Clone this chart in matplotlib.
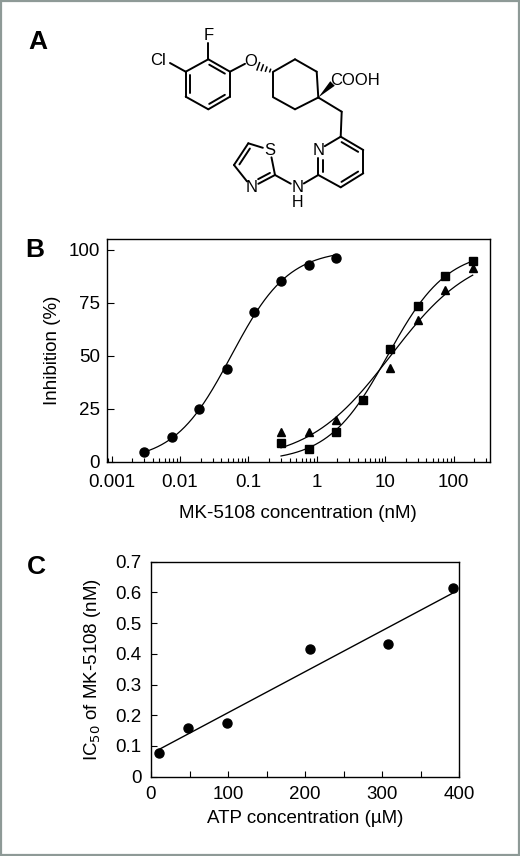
import numpy as np
import matplotlib.pyplot as plt
from matplotlib.patches import Polygon, Rectangle

plt.rcParams['font.family'] = ['Liberation Sans', 'DejaVu Sans']

# panel B data: MK-5108 concentration (nM) vs inhibition (%)
conc_aurA = [0.003, 0.0077, 0.019, 0.048, 0.12, 0.30, 0.76, 1.9]
inh_aurA = [4.7, 11.8, 24.7, 43.8, 70.4, 85.4, 92.9, 96.1]
conc_sq = [0.30, 0.76, 1.9, 4.8, 11.9, 30, 76, 190]
inh_sq = [9.0, 5.8, 14.2, 29.1, 53.2, 73.5, 87.7, 94.5]
conc_tri = [0.30, 0.76, 1.9, 11.9, 30, 76, 190]
inh_tri = [14.2, 13.9, 19.7, 44.4, 66.6, 81.1, 91.3]

# panel C data: ATP concentration (uM) vs IC50 (nM)
atp = [10, 48, 99, 206, 308, 392]
ic50 = [0.076, 0.158, 0.174, 0.417, 0.431, 0.613]


def fit_hill(x, y):
    # least squares 0-100 logistic, grid search on log IC50 and slope
    lx = np.log10(np.asarray(x))[None, None, :]
    yy = np.asarray(y)[None, None, :]
    lc = np.linspace(-4, 3, 1401)[:, None, None]
    nn = np.linspace(0.3, 2.5, 221)[None, :, None]
    pred = 100 / (1 + 10 ** ((lc - lx) * nn))
    sse = ((pred - yy) ** 2).sum(axis=2)
    i, j = np.unravel_index(np.argmin(sse), sse.shape)
    return lc[i, 0, 0], nn[0, j, 0]


def hill_curve(x, y, n=200):
    lc, hs = fit_hill(x, y)
    xs = np.logspace(np.log10(min(x)), np.log10(max(x)), n)
    return xs, 100 / (1 + 10 ** ((lc - np.log10(xs)) * hs))


W, H = 520, 856
fig = plt.figure(figsize=(W / 100, H / 100), dpi=100)

# overlay for structure, panel letters and frame (pixel coords)
ov = fig.add_axes([0, 0, 1, 1])
ov.set_xlim(0, W)
ov.set_ylim(H, 0)
ov.axis('off')
ov.add_patch(Rectangle((1, 1), W - 2, H - 2, fill=False, ec='#8e9a97', lw=1.6))

lw_b = 1.4
def bond(p, q, t1=0, t2=0):
    p, q = np.array(p, float), np.array(q, float)
    d = (q - p) / np.linalg.norm(q - p)
    p, q = p + d * t1, q - d * t2
    ov.plot([p[0], q[0]], [p[1], q[1]], color='k', lw=lw_b, solid_capstyle='round')

def inner(p, q, c, t1=0, t2=0, off=4.2, sh=3.5):
    p, q, c = np.array(p, float), np.array(q, float), np.array(c, float)
    d = (q - p) / np.linalg.norm(q - p)
    nrm = np.array([-d[1], d[0]])
    if np.dot(c - (p + q) / 2, nrm) < 0:
        nrm = -nrm
    p2 = p + nrm * off + d * (sh + t1)
    q2 = q + nrm * off - d * (sh + t2)
    ov.plot([p2[0], q2[0]], [p2[1], q2[1]], color='k', lw=lw_b, solid_capstyle='round')

def atom(s, xy, fs=12):
    ov.text(xy[0], xy[1], s, ha='center', va='center', fontsize=fs)

def ring(pts, dbl, center):
    for k in range(len(pts)):
        bond(pts[k], pts[(k + 1) % len(pts)])
    for a, b in dbl:
        inner(pts[a], pts[b], center)

# chlorofluorophenyl ring
bz = [(208.3, 59.3), (230, 71.7), (230, 96.7), (208.3, 109.3), (185.7, 96.7), (185.7, 71.7)]
ring(bz, [(0, 1), (2, 3), (4, 5)], (208, 84.5))
bond(bz[0], (208.3, 43))
atom('F', (208.3, 35))
bond(bz[5], (170, 63))
atom('Cl', (158, 60.5))
bond(bz[1], (245, 63.8))
atom('O', (251, 61))

# cyclohexane
cy = [(273.3, 71.7), (295, 59.3), (316.7, 71.7), (318.3, 97.5), (295, 109.3), (273.3, 97.3)]
ring(cy, [], (295, 84))
# hashed bond O -> ring carbon
ho, hc = np.array([257.5, 66.0]), np.array(cy[0])
dv = hc - ho
nv = np.array([-dv[1], dv[0]]) / np.linalg.norm(dv)
for f in np.linspace(0.05, 0.8, 4):
    c0 = ho + dv * f
    hw = 3.4 * (1 - f) + 0.6
    ov.plot([c0[0] - nv[0] * hw, c0[0] + nv[0] * hw], [c0[1] - nv[1] * hw, c0[1] + nv[1] * hw],
            color='k', lw=1.1)
# wedge to COOH
wq = np.array(cy[3])
we = np.array([332.5, 83.5])
dw = we - wq
nw = np.array([-dw[1], dw[0]]) / np.linalg.norm(dw)
ov.add_patch(Polygon([wq, we + nw * 3.2, we - nw * 3.2], closed=True, color='k', lw=0))
ov.text(330.5, 80, 'COOH', ha='left', va='center', fontsize=12)
# CH2 link
bond(cy[3], (341.7, 111.7))
bond((341.7, 111.7), (340.7, 136.7))

# pyridine
py = [(340.7, 136.7), (363.3, 150), (363.3, 173.3), (340.7, 187.3), (318.3, 175), (318.3, 150)]
pc = (340.8, 162)
bond(py[0], py[1]); inner(py[0], py[1], pc)
bond(py[1], py[2])
bond(py[2], py[3]); inner(py[2], py[3], pc)
bond(py[3], py[4])
bond(py[4], py[5], 0, 7.5); inner(py[4], py[5], pc, 0, 6)
bond(py[5], py[0], 7.5, 0)
atom('N', py[5])

# NH
nh = (297.3, 187.3)
bond(py[4], nh, 0, 7.5)
atom('N', nh)
atom('H', (297.3, 202.5), fs=11.5)

# thiazole
th_c2, th_s, th_c5, th_c4, th_n = (275, 175), (270, 150), (248.3, 143.3), (234, 165), (251.7, 187.3)
tc = (256, 162)
bond(nh, th_c2, 7.5, 0)
bond(th_c2, th_s, 0, 7.5)
atom('S', th_s)
bond(th_s, th_c5, 7.5, 0)
bond(th_c5, th_c4); inner(th_c5, th_c4, tc)
bond(th_c4, th_n, 0, 7.5)
bond(th_n, th_c2, 7.5, 0); inner(th_n, th_c2, tc, 6, 0)
atom('N', th_n)

# panel letters
for s, xy in [('A', (38, 41.5)), ('B', (35, 250)), ('C', (36.5, 566.5))]:
    ov.text(xy[0], xy[1], s, ha='center', va='center', fontsize=19, fontweight='bold')

# panel B
axb = fig.add_axes([106.7 / W, 1 - 461.7 / H, (490 - 106.7) / W, (461.7 - 239) / H])
xs, ys = hill_curve(conc_aurA, inh_aurA)
axb.plot(xs, ys, color='k', lw=0.9)
xs, ys = hill_curve(conc_sq, inh_sq)
axb.plot(xs, ys, color='k', lw=0.9)
xs, ys = hill_curve(conc_tri, inh_tri)
axb.plot(xs, ys, color='k', lw=0.9)
axb.plot(conc_aurA, inh_aurA, 'o', color='k', ms=6.5, clip_on=False)
axb.plot(conc_sq, inh_sq, 's', color='k', ms=5.5, clip_on=False)
axb.plot(conc_tri, inh_tri, '^', color='k', ms=6.0, clip_on=False)
axb.set_xscale('log')
axb.set_xlim(0.00085, 340)
axb.set_ylim(0, 105)
axb.set_xticks([0.001, 0.01, 0.1, 1, 10, 100])
axb.set_xticklabels(['0.001', '0.01', '0.1', '1', '10', '100'])
axb.set_yticks([0, 25, 50, 75, 100])
axb.tick_params(axis='x', which='major', direction='in', length=4, width=0.8, pad=9, labelsize=13.5)
axb.tick_params(axis='x', which='minor', direction='in', length=3, width=0.8)
axb.tick_params(axis='y', direction='in', length=5, width=0.8, pad=5, labelsize=13.5)
axb.set_xlabel('MK-5108 concentration (nM)', fontsize=13.5, labelpad=10)
axb.set_ylabel('Inhibition (%)', fontsize=13.5, labelpad=5)
for sp in axb.spines.values():
    sp.set_linewidth(1.0)

# panel C
axc = fig.add_axes([151 / W, 1 - 776.7 / H, (459.3 - 151) / W, (776.7 - 561.7) / H])
k, b0 = np.polyfit(atp, ic50, 1)
xl = np.array([min(atp), max(atp)])
axc.plot(xl, k * xl + b0, color='k', lw=1.0)
axc.plot(atp, ic50, 'o', color='k', ms=6.5, clip_on=False)
axc.set_xlim(0, 400)
axc.set_ylim(0, 0.7)
axc.set_xticks(np.arange(0, 401, 50))
axc.set_xticklabels(['0', '', '100', '', '200', '', '300', '', '400'])
axc.set_yticks(np.arange(0, 0.71, 0.1))
axc.set_yticklabels(['0', '0.1', '0.2', '0.3', '0.4', '0.5', '0.6', '0.7'])
axc.tick_params(axis='x', direction='in', length=4, width=0.8, pad=7, labelsize=13.5)
axc.tick_params(axis='y', direction='in', length=4, width=0.8, pad=7, labelsize=13.5)
axc.set_xlabel('ATP concentration (µM)', fontsize=13.5, labelpad=5)
axc.set_ylabel('IC$_{50}$ of MK-5108 (nM)', fontsize=13.5, labelpad=9)
for sp in axc.spines.values():
    sp.set_linewidth(1.0)

fig.savefig('out.png', dpi=100, facecolor='white')
